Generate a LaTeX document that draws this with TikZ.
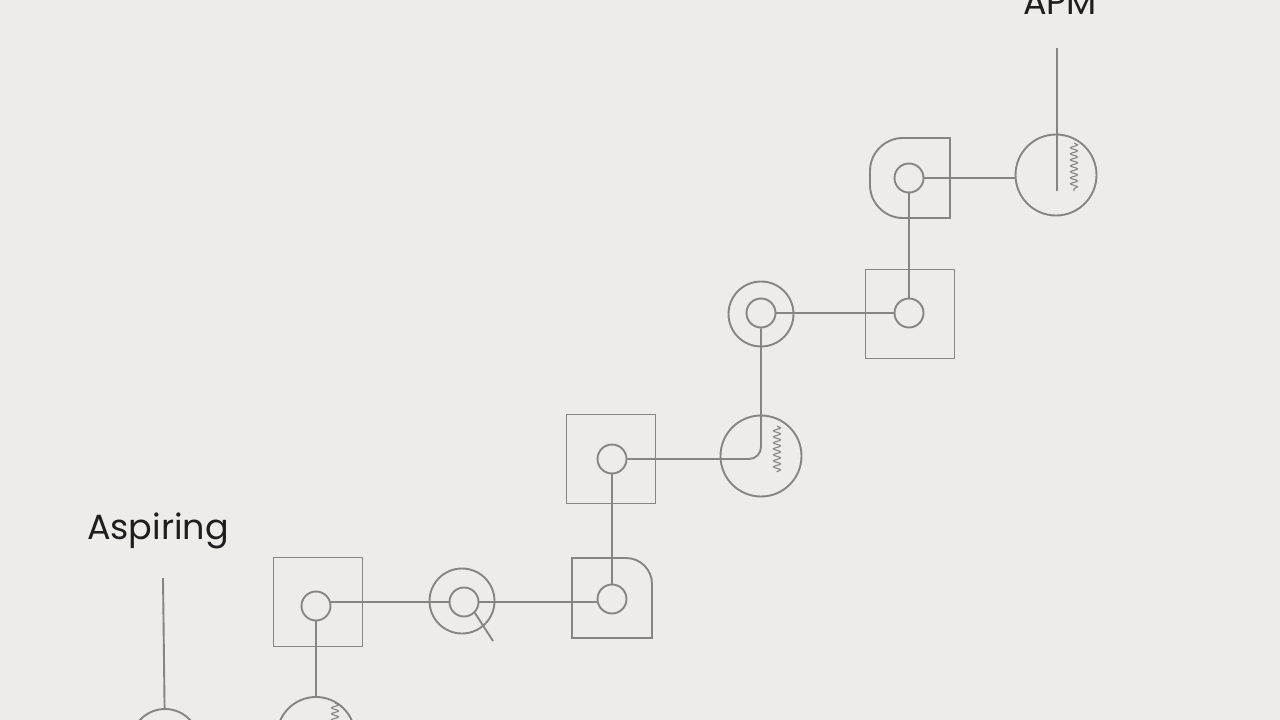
\documentclass[tikz,border=0pt]{standalone}
\usepackage{fontspec}
\setmainfont{Poppins}
\usetikzlibrary{decorations.pathmorphing}
\definecolor{paper}{HTML}{EDECE8}
\definecolor{ink}{HTML}{858583}
\definecolor{label}{HTML}{1E1E1E}

\begin{document}
\begin{tikzpicture}
            [
                x=1pt, y=-1pt,
                color=ink, line width=1.9pt,
                hub/.style={circle, draw, inner sep=0pt, minimum size=29pt},
                ring/.style={circle, draw, inner sep=0pt, minimum size=65pt},
                dial/.style={circle, draw, inner sep=0pt, minimum size=81pt},
                box/.style={rectangle, draw, inner sep=0pt, minimum size=89pt},
                tag/.style={font=\fontsize{35}{35}\selectfont, text=label, inner sep=0pt},
                scribble/.style={decorate, line width=1.1pt,
                    decoration={snake, amplitude=3.5pt, segment length=6pt}}
            ]
            \fill[paper] (0,0) rectangle (1280,720);
            \useasboundingbox (0,0) rectangle (1280,720);

            % labels
            \node[tag, anchor=base] (apm) at (1060,14) {APM};
            \node[tag, anchor=base] (aspiring) at (158,539) {Aspiring};

            % top
            \node[dial] (dialA) at (1056,175) {};
            \node[hub] (hubA) at (909,178) {};
            \draw[rounded corners=33pt] (910,218) -- (870,218) -- (870,138) -- (910,138);
            \draw (910,138) -- (950,138) -- (950,218) -- (910,218);
            \coordinate (apmTop) at (1057,48);
            \coordinate (apmEnd) at (1057,191);

            % upper middle
            \node[box] (boxA) at (910,314) {};
            \node[hub] (hubB) at (909,313) {};
            \node[ring] (ringA) at (761,314) {};
            \node[hub] (hubC) at (761,313) {};

            % middle
            \node[dial] (dialB) at (761,456) {};
            \node[box] (boxB) at (611,459) {};
            \node[hub] (hubD) at (612,459) {};

            % lower middle
            \node[hub] (hubE) at (612,599) {};
            \draw (612,638) -- (572,638) -- (572,558) -- (612,558);
            \draw[rounded corners=26pt] (612,558) -- (652,558) -- (652,598);
            \draw (652,598) -- (652,638) -- (612,638);
            \node[ring] (ringB) at (462,601) {};
            \node[hub] (hubG) at (464,602) {};
            \coordinate (tail) at (493,641);

            % bottom
            \node[box] (boxC) at (318,602) {};
            \node[hub] (hubF) at (316,606) {};
            \node[dial, minimum size=78pt] (dialC) at (316,736) {};
            \node[dial, minimum size=68pt] (dialD) at (165,743) {};
            \coordinate (aspTop) at (163,578);

            % connectors
            \draw (apmTop) -- (apmEnd);
            \draw (hubA.east) -- (hubA.east -| dialA.west);
            \draw (hubA) -- (hubB);
            \draw (hubC) -- (hubB);
            \draw[rounded corners=12pt] (hubC.south) |- (hubD.east);
            \draw (hubD) -- (hubE);
            \draw (hubG.east) -- (hubG.east -| hubE.west);
            \draw (hubG.west) -- (hubG.west -| hubF.east);
            \draw (hubG.south east) -- (tail);
            \draw (hubF) -- (dialC);
            \draw (aspTop) -- (dialD);

            % scribbles
            \draw[scribble] (1074,143) -- (1074,191);
            \draw[scribble] (777,426) -- (777,472);
            \draw[scribble] (335,703) -- (335,722);
        \end{tikzpicture}
\end{document}
